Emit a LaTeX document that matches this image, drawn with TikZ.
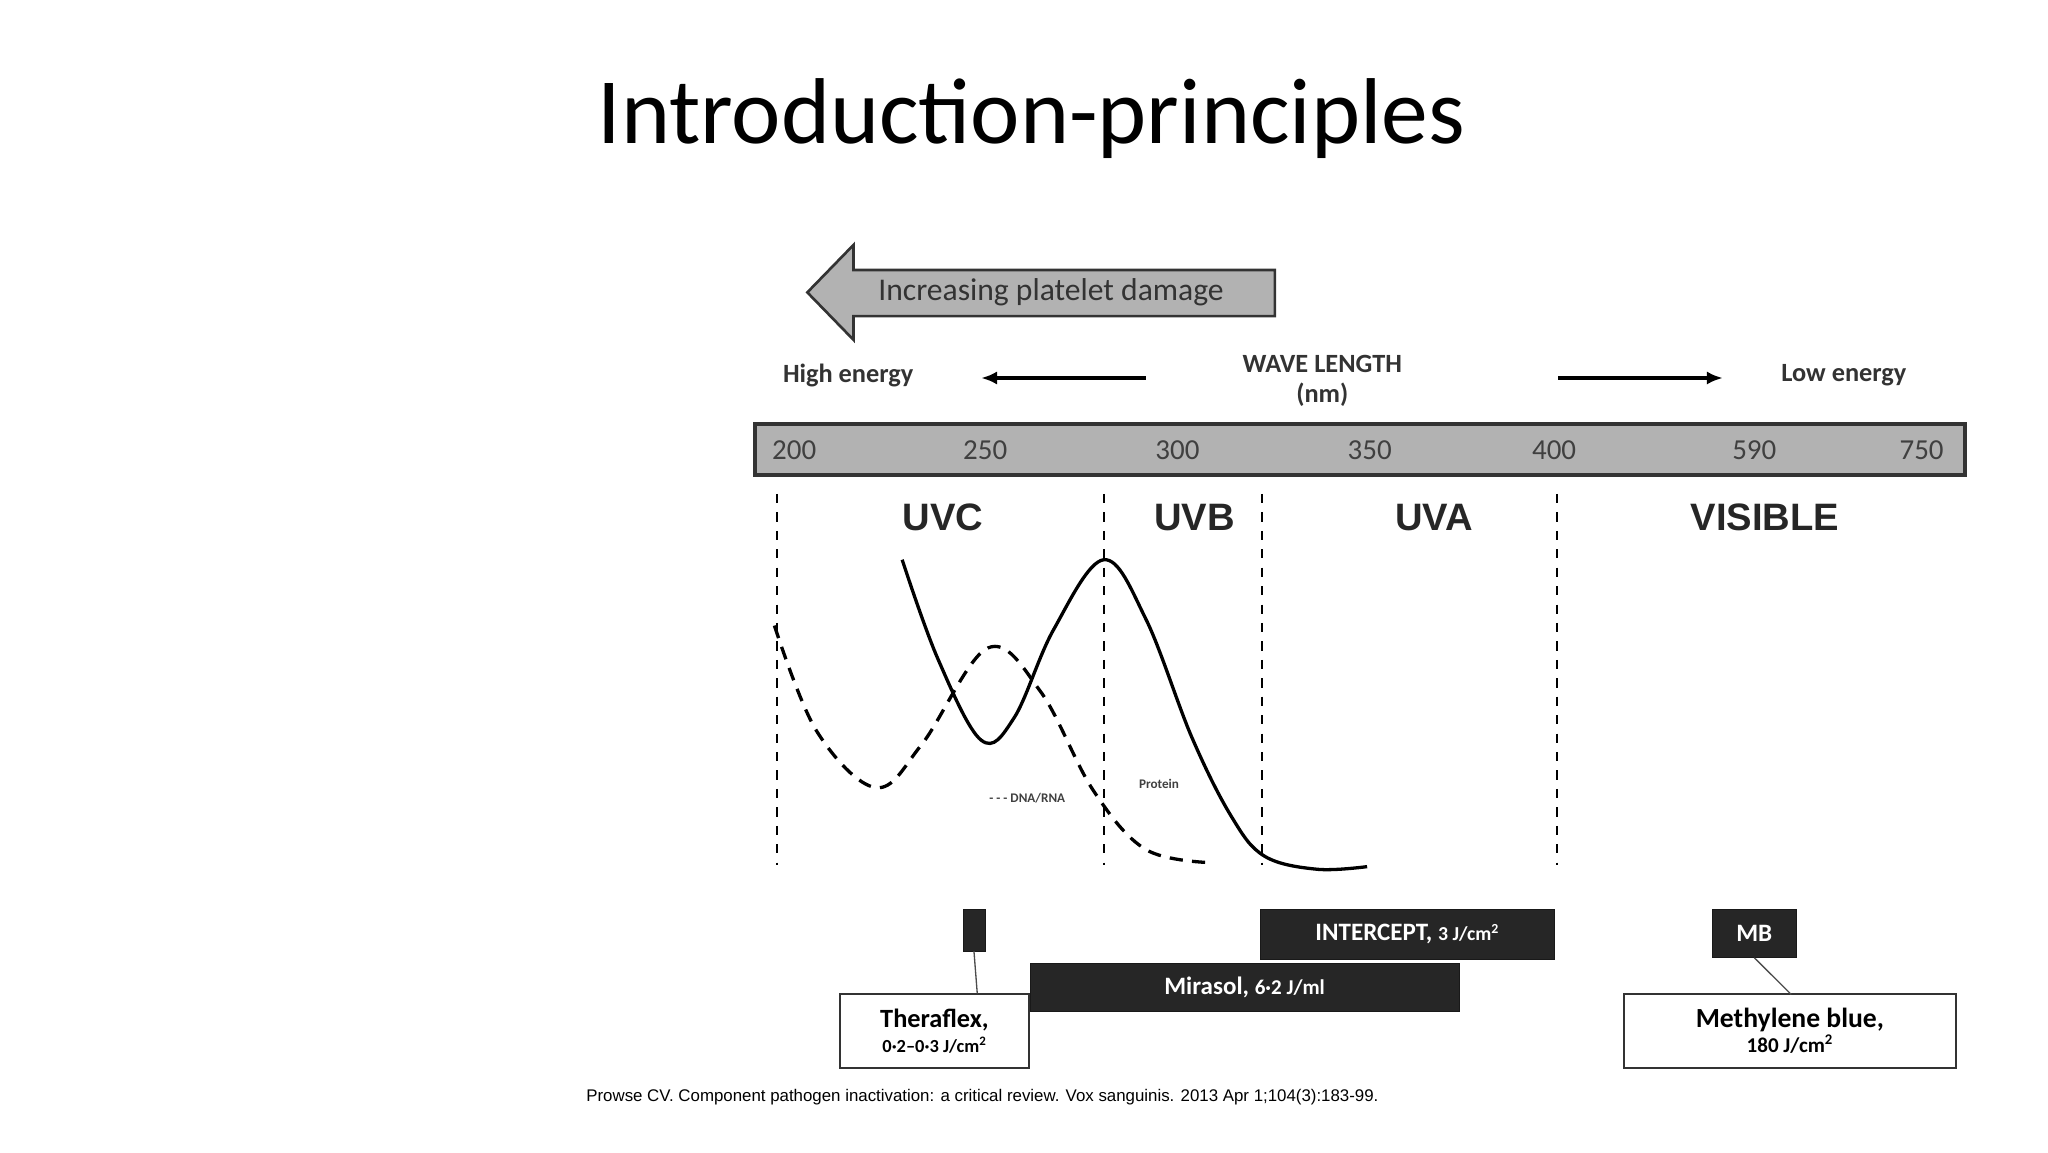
\documentclass[tikz,border=0pt]{standalone}
\usepackage{fontspec}
\setmainfont{Carlito}
\newfontfamily\arialf{Liberation Sans}
\usetikzlibrary{arrows.meta}
\begin{document}
\begin{tikzpicture}[x=1pt,y=-1pt,
  lbl/.style={inner sep=0pt,font=\bfseries\fontsize{20}{21}\selectfont,text=black!80},
  tick/.style={inner sep=0pt,font=\fontsize{22}{23}\selectfont,text=black!75},
  band/.style={inner sep=0pt,font=\arialf\bfseries\fontsize{29}{30}\selectfont,text=black!85},
  blk/.style={draw=black!90,fill=black!85,text=white,font=\bfseries\fontsize{19}{20}\selectfont},
  wbox/.style={draw=black!80,line width=1.5pt,fill=white,align=center,font=\bfseries\fontsize{19}{20}\selectfont},
  vline/.style={dashed,line width=1.6pt,dash pattern=on 7pt off 7pt},
  arr/.style={-{Latex[length=12pt,width=10pt]},line width=2.5pt}]
\useasboundingbox (0,0) rectangle (1555,875);
\node (title) at (783,90) {\fontsize{71}{76}\selectfont Introduction-principles};
% big arrow
\draw[fill=black!30,draw=black!80,line width=2pt] (613,222) -- (648,186) -- (648,205) -- (968,205) -- (968,240) -- (648,240) -- (648,258) -- cycle;
\node (dmg) at (798,222) {\fontsize{24}{25}\selectfont\color{black!80}Increasing platelet damage};
% energy
\node[lbl] (he) at (644,285) {High energy};
\node[lbl,align=center] (wl) at (1004,289) {WAVE LENGTH\\[2pt](nm)};
\node[lbl] (le) at (1400,285) {Low energy};
\coordinate (a1) at (870,287); \coordinate (a2) at (745,287);
\coordinate (b1) at (1183,287); \coordinate (b2) at (1308,287);
\draw[arr] (a1) -- (a2);
\draw[arr] (b1) -- (b2);
% scale bar
\draw[fill=black!30,draw=black!80,line width=3pt] (573,322) rectangle (1492,361);
\foreach \v/\x in {200/603,250/748,300/894,350/1040,400/1180,590/1332,750/1459}
  \node[tick] at (\x,342) {\v};
% dashed lines
\foreach \x in {590,838,958,1182} \draw[vline] (\x,375) -- (\x,657);
\node[band] (uvc) at (716,393) {UVC};
\node[band] (uvb) at (907,393) {UVB};
\node[band] (uva) at (1089,393) {UVA};
\node[band] (vis) at (1340,393) {VISIBLE};
% curves
\draw[line width=2.5pt] plot[smooth,tension=0.6] coordinates {(685,425) (712,500) (745,562) (770,545) (800,478) (838,425) (870,470) (905,560) (935,620) (960,650) (1000,660) (1038,658)};
\draw[line width=2.5pt,dash pattern=on 10pt off 7pt] plot[smooth,tension=0.6] coordinates {(588,475) (620,555) (665,598) (700,565) (750,492) (790,525) (830,600) (870,645) (920,655)};
\node[font=\bfseries\fontsize{10}{11}\selectfont,text=black!75] (dna) at (780,606) {- - - DNA/RNA};
\node[font=\bfseries\fontsize{10}{11}\selectfont,text=black!75] (prot) at (880,595) {Protein};
% bottom boxes
\node[blk,minimum width=17pt,minimum height=32pt,inner sep=0pt] (tf) at (739.5,706) {};
\node[wbox,minimum width=143pt,minimum height=56pt,inner sep=1pt] (thera) at (709.5,783) {\fontsize{20}{21}\selectfont Theraflex,\\[-1pt]\fontsize{14}{15}\selectfont 0·2–0·3 J/cm\textsuperscript{2}};
\node[blk,minimum width=326pt,minimum height=37pt,inner sep=0pt] (mir) at (945,749.5) {Mirasol, {\fontsize{16}{17}\selectfont 6·2 J/ml}};
\node[blk,minimum width=223pt,minimum height=38pt,inner sep=0pt] (int) at (1068.5,709) {INTERCEPT, {\fontsize{15}{16}\selectfont 3 J/cm\textsuperscript{2}}};
\node[blk,minimum width=64pt,minimum height=37pt,inner sep=0pt] (mb) at (1332,708.5) {MB};
\node[wbox,minimum width=252pt,minimum height=56pt,inner sep=1pt] (meth) at (1359,783) {\fontsize{21}{22}\selectfont Methylene blue,\\[-1pt]\fontsize{16}{17}\selectfont 180 J/cm\textsuperscript{2}};
\draw[line width=1pt,black!70] (tf.south) -- (thera.north -| 742,0);
\draw[line width=1pt,black!70] (mb.south) -- (1360,755);
\node[anchor=west,inner sep=0pt,font=\arialf\fontsize{12.8}{13}\selectfont] (cite) at (445,833) {Prowse CV. Component pathogen inactivation: a critical review. Vox sanguinis. 2013 Apr 1;104(3):183-99.};
\end{tikzpicture}
\end{document}
